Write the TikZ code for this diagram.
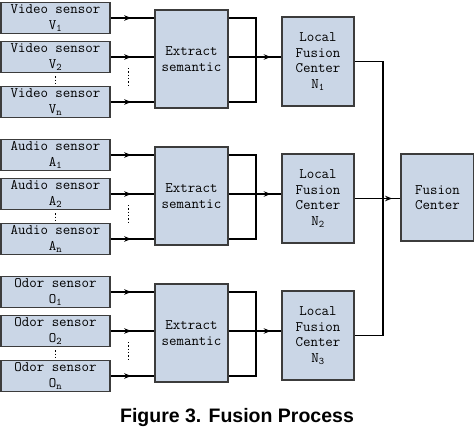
\documentclass[tikz,border=0pt]{standalone}
\usepackage{fontspec}
\newfontfamily\capfont{Liberation Sans}
\usetikzlibrary{arrows.meta,decorations.markings}
\definecolor{boxblue}{HTML}{CAD6E6}
\definecolor{boxedge}{HTML}{3C3C3C}

\begin{document}
\begin{tikzpicture}[x=1pt,y=-1pt,
    box/.style={draw=boxedge,line width=1.5pt,fill=boxblue,inner sep=0pt,align=center,
      font=\ttfamily\fontsize{14.5}{15.5}\selectfont},
    sensorbox/.style={box,minimum width=109pt,minimum height=31pt},
    extractbox/.style={box,minimum width=73pt,minimum height=98pt},
    localbox/.style={box,minimum width=72pt,minimum height=89pt},
    wire/.style={line width=1.8pt,black},
    dotline/.style={dotted,line width=1.3pt},
    midarrow/.style={wire,postaction={decorate},decoration={markings,
      mark=at position #1 with {\arrow{Stealth[length=7pt,width=5.5pt]}}}}]
  \useasboundingbox (0,0) rectangle (474,429);
  % one row of sensors per kind
  \foreach \g/\kind/\sym/\k in {0/Video/V/1,137/Audio/A/2,274/Odor/O/3} {
    \node[sensorbox] (\sym1) at (55.5,18+\g) {\kind\ sensor\\\sym\textsubscript{1}};
    \node[sensorbox] (\sym2) at (55.5,57+\g) {\kind\ sensor\\\sym\textsubscript{2}};
    \node[sensorbox] (\sym n) at (55.5,102+\g) {\kind\ sensor\\\sym\textsubscript{n}};
    \node[extractbox] (ex\k) at (191.5,59+\g) {Extract\\semantic};
    \node[localbox] (lfc\k) at (318,61.5+\g) {Local\\Fusion\\Center\\N\textsubscript{\k}};
    \draw[dotline] ([yshift=-3pt]\sym2.south) -- ([yshift=2pt]\sym n.north);
    \draw[dotline] ([shift={(18pt,-11pt)}]\sym2.east) -- ([shift={(18pt,15pt)}]\sym n.east);
    \draw[midarrow=0.47] (\sym1.east) -- (\sym1.east -| ex\k.west);
    \draw[midarrow=0.47] (\sym2.east) -- (\sym2.east -| ex\k.west);
    \draw[midarrow=0.47] (\sym n.east) -- (\sym n.east -| ex\k.west);
    \draw[wire] (\sym1.east -| ex\k.east) -- ++(27,0) |- (\sym n.east -| ex\k.east);
    \draw[midarrow=0.8] (\sym2.east -| ex\k.east) -- (\sym2.east -| lfc\k.west);
  }
  \node[box,minimum width=73pt,minimum height=87pt] (fc) at (437.5,197.5) {Fusion\\Center};
  \draw[wire] (lfc1.east) -- ++(28,0) |- (lfc3.east);
  \draw[midarrow=0.82] (lfc2.east) -- (lfc2.east -| fc.west);
  \node[font=\capfont\bfseries\fontsize{19.5}{22}\selectfont,anchor=base] (caption)
    at (237,422) {Figure 3. Fusion Process};
\end{tikzpicture}
\end{document}
